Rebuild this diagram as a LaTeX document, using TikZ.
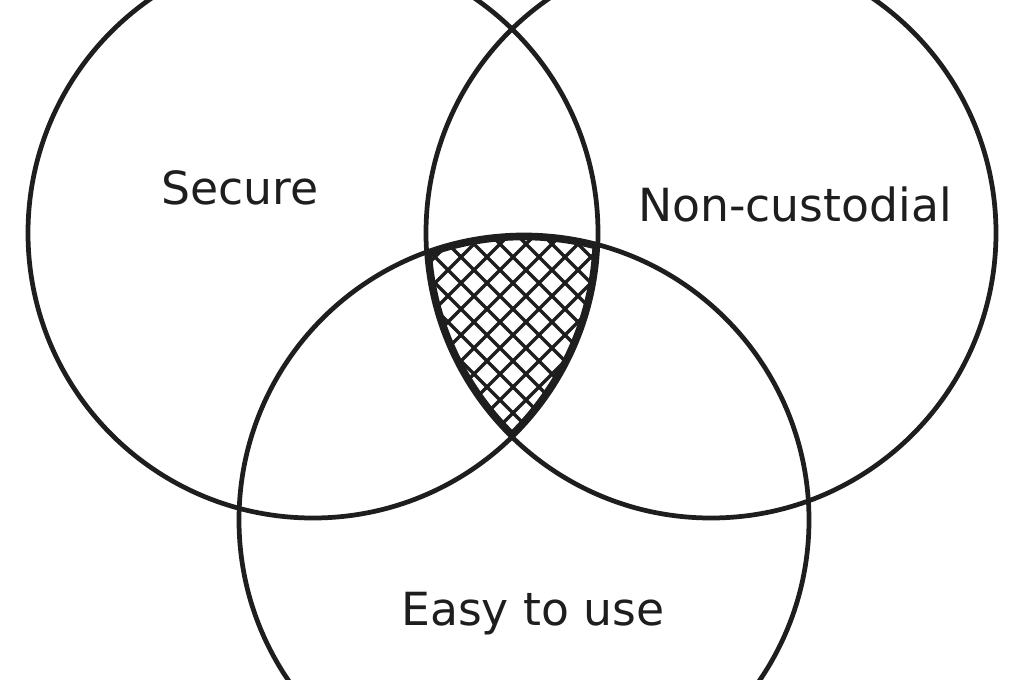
\documentclass[tikz,border=0pt]{standalone}
\usepackage{fontspec}
\setmainfont{DejaVu Sans}
\usepackage{tikz}
\usetikzlibrary{calc}

\definecolor{ink}{HTML}{1E1E1E}

\begin{document}
\begin{tikzpicture}[x=0.02cm,y=-0.02cm]
            % Define the radius of the circles and the hatch spacing
            \def\r{285}  % radius of every circle
            \def\h{26}   % spacing of the hatch lines

            % Centres of the three circles
            \coordinate (Cs) at (313, 233);
            \coordinate (Cn) at (711, 233);
            \coordinate (Ce) at (524, 520);

            \useasboundingbox (0,0) rectangle (1022,680);
            \clip (0,0) rectangle (1022,680);

            % Draw the hatch of the common part
            \begin{scope}
                \clip (Cs) circle[radius=\r];
                \clip (Cn) circle[radius=\r];
                \clip (Ce) circle[radius=\r];
                \foreach \i in {0,...,16}
                    \draw[ink,line width=2pt] (-30+\i*\h+200,200) -- (-30+\i*\h+460,460);
                \foreach \i in {0,...,16}
                    \draw[ink,line width=2pt] (640+\i*\h-200,200) -- (640+\i*\h-460,460);
                % thicker edge of the common part
                \draw[ink,line width=6pt] (Cs) circle[radius=\r];
                \draw[ink,line width=6pt] (Cn) circle[radius=\r];
                \draw[ink,line width=6pt] (Ce) circle[radius=\r];
            \end{scope}

            % Draw the circles
            \draw[ink,line width=2.7pt] (Cs) circle[radius=\r];
            \draw[ink,line width=2.7pt] (Cn) circle[radius=\r];
            \draw[ink,line width=2.7pt] (Ce) circle[radius=\r];

            % Draw the labels
            \node[ink,anchor=base,font=\fontsize{26}{30}\selectfont] (secure) at (240,204) {Secure};
            \node[ink,anchor=base,font=\fontsize{26}{30}\selectfont] (custodial) at (795,221) {Non-custodial};
            \node[ink,anchor=base,font=\fontsize{26}{30}\selectfont] (easy) at (533,625) {Easy to use};

        \end{tikzpicture}
\end{document}
